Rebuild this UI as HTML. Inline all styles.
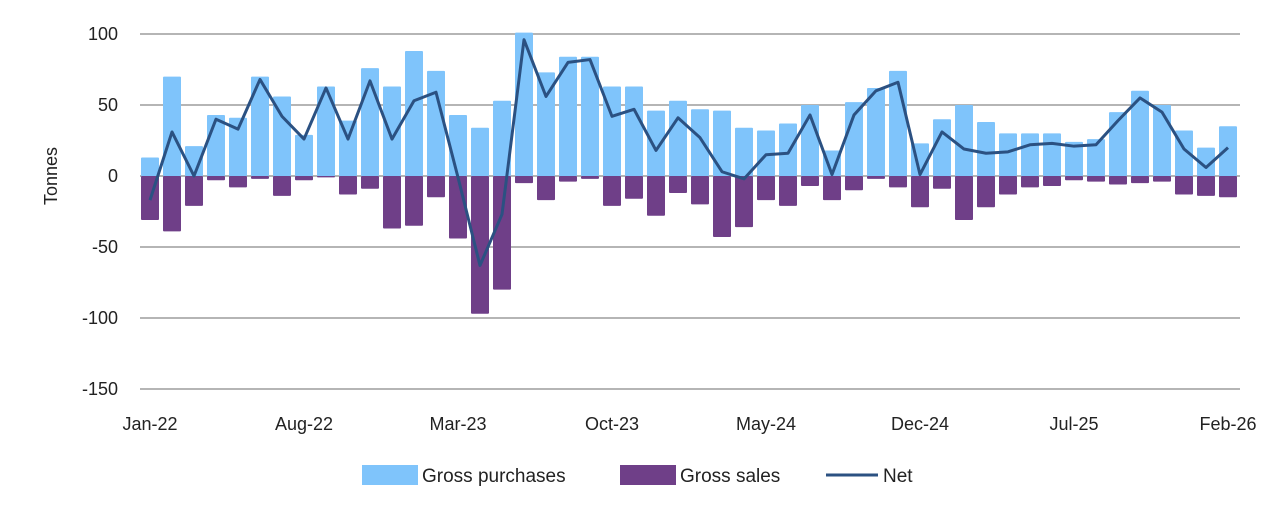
<!DOCTYPE html>
<html><head><meta charset="utf-8"><style>
body{margin:0;background:#fff;width:1280px;height:512px;overflow:hidden;font-family:"Liberation Sans",sans-serif}
svg text{font-family:"Liberation Sans",sans-serif;fill:#222}
</style></head><body>
<svg id="chart" width="1280" height="512"></svg>
<script>
const categories=["Jan-22","Feb-22","Mar-22","Apr-22","May-22","Jun-22","Jul-22","Aug-22","Sep-22","Oct-22","Nov-22","Dec-22","Jan-23","Feb-23","Mar-23","Apr-23","May-23","Jun-23","Jul-23","Aug-23","Sep-23","Oct-23","Nov-23","Dec-23","Jan-24","Feb-24","Mar-24","Apr-24","May-24","Jun-24","Jul-24","Aug-24","Sep-24","Oct-24","Nov-24","Dec-24","Jan-25","Feb-25","Mar-25","Apr-25","May-25","Jun-25","Jul-25","Aug-25","Sep-25","Oct-25","Nov-25","Dec-25","Jan-26","Feb-26"];
const purchases=[13,70,21,43,41,70,56,29,63,39,76,63,88,74,43,34,53,101,73,84,84,63,63,46,53,47,46,34,32,37,50,18,52,62,74,23,40,50,38,30,30,30,24,26,45,60,50,32,20,35];
const sales=[-31,-39,-21,-3,-8,-2,-14,-3,-1,-13,-9,-37,-35,-15,-44,-97,-80,-5,-17,-4,-2,-21,-16,-28,-12,-20,-43,-36,-17,-21,-7,-17,-10,-2,-8,-22,-9,-31,-22,-13,-8,-7,-3,-4,-6,-5,-4,-13,-14,-15];
const net=[-17,31,0,40,33,68,42,26,62,26,67,26,53,59,-1,-63,-27,96,56,80,82,42,47,18,41,27,3,-2,15,16,43,1,43,60,66,1,31,19,16,17,22,23,21,22,39,55,45,19,6,20];
const yTicks=[100,50,0,-50,-100,-150];
const xTickLabels=["Jan-22","Aug-22","Mar-23","Oct-23","May-24","Dec-24","Jul-25","Feb-26"];

const svg=document.getElementById('chart');
const NS='http://www.w3.org/2000/svg';
const X=i=>150+i*22;
const Y=v=>176-v*1.42;
function mk(tag,attrs,parent){const e=document.createElementNS(NS,tag);for(const k in attrs)e.setAttribute(k,attrs[k]);(parent||svg).appendChild(e);return e;}

yTicks.forEach(t=>{
  const g=mk('line',{x1:140,x2:1240,y1:Y(t),y2:Y(t),stroke:'#b5b5b5','stroke-width':2});
  
  
  const l=mk('text',{x:118,y:Y(t)+6,'text-anchor':'end','font-size':18});
  l.textContent=t;
  
  
});
const yt=mk('text',{x:0,y:0,'text-anchor':'middle','font-size':18,transform:'translate(57,176) rotate(-90)'});
yt.textContent='Tonnes';



purchases.forEach((v,i)=>{
  const r=mk('rect',{x:X(i)-9,y:Y(v),width:18,height:Y(0)-Y(v),fill:'#7fc4fb',rx:1});
  
  
});
sales.forEach((v,i)=>{
  const r=mk('rect',{x:X(i)-9,y:Y(0),width:18,height:Y(v)-Y(0),fill:'#6f3f88',rx:1});
  
  
});
const p=mk('polyline',{points:net.map((v,i)=>X(i)+','+Y(v)).join(' '),fill:'none',stroke:'#2b5182','stroke-width':3,'stroke-linejoin':'round'});



xTickLabels.forEach(c=>{
  const i=categories.indexOf(c);
  const t=mk('text',{x:X(i),y:430,'text-anchor':'middle','font-size':18});
  t.textContent=c;
  
  
});

const leg=mk('g',{});


const items=[['Gross purchases','#7fc4fb','rect',362],['Gross sales','#6f3f88','rect',620],['Net','#2b5182','line',826]];
items.forEach(([name,col,kind,x])=>{
  const g=mk('g',{},leg);
  
  
  if(kind==='rect')mk('rect',{x:x,y:465,width:56,height:20,fill:col},g);
  else mk('line',{x1:x,x2:x+52,y1:475,y2:475,stroke:col,'stroke-width':3},g);
  const t=mk('text',{x:x+(kind==='rect'?60:57),y:482,'font-size':19},g);
  t.textContent=name;
});
</script>
</body></html>
